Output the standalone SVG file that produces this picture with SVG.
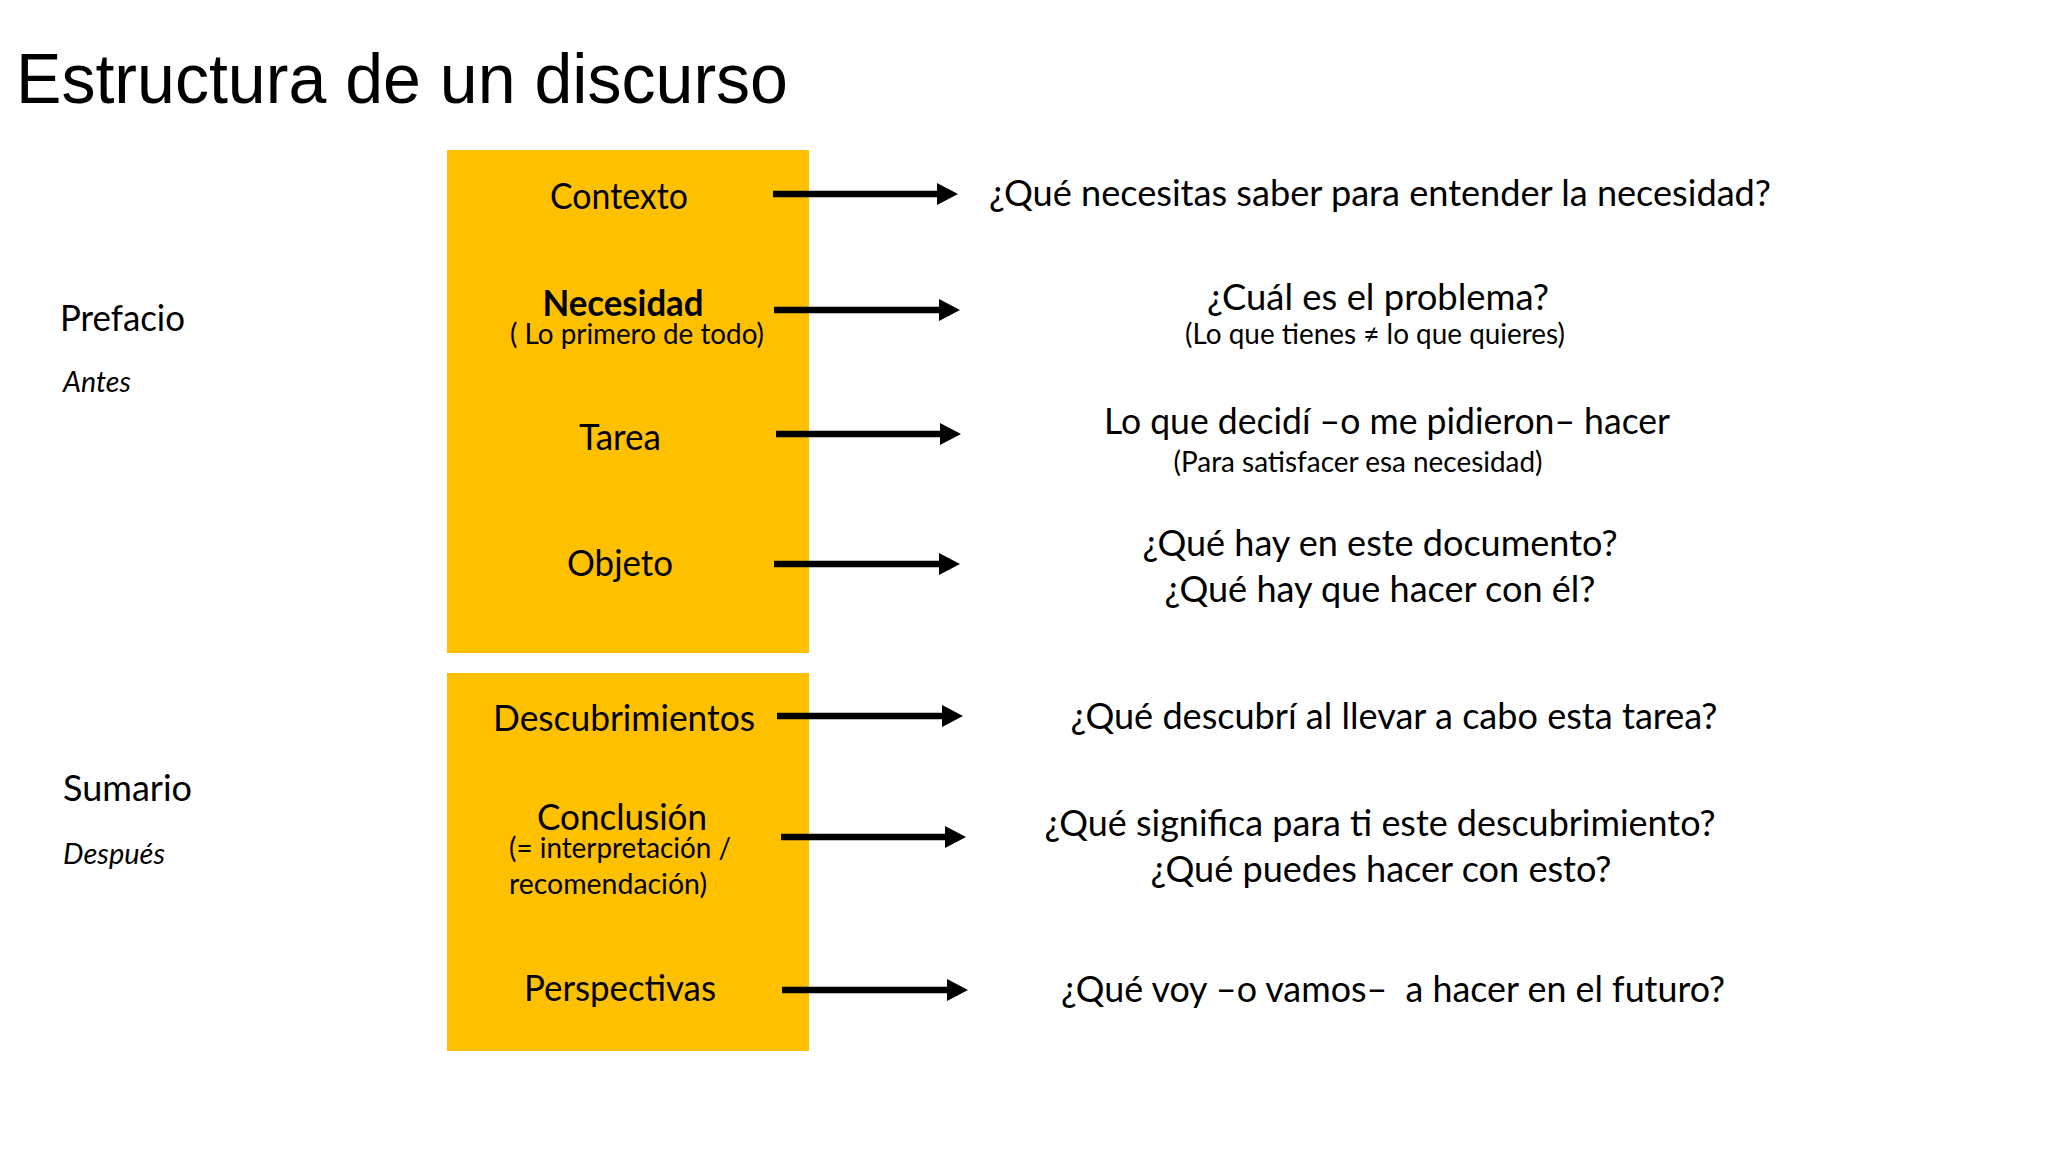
<svg xmlns="http://www.w3.org/2000/svg" width="2048" height="1152" viewBox="0 0 2048 1152">
<style>
.t{font-family:Lato,"Open Sans","Liberation Sans",sans-serif;fill:#000}
.m{font-size:36px;text-anchor:middle}
.s{font-size:28px;text-anchor:middle}
.l{font-size:36px}
.i{font-size:28px;font-style:italic}
.box{fill:#FFC000}
.arr{stroke:#000;stroke-width:6.5;fill:none;marker-end:url(#ah)}
</style>
<defs>
<marker id="ah" markerUnits="userSpaceOnUse" markerWidth="22" markerHeight="22" refX="1" refY="11" orient="auto" viewBox="0 0 22 22">
<path d="M0,0 L21,11 L0,22 z" fill="#000"/>
</marker>
</defs>
<rect width="2048" height="1152" fill="#fff"/>
<text id="title" x="16" y="103" font-family="'Liberation Sans',Arial,sans-serif" font-size="70" textLength="772" lengthAdjust="spacingAndGlyphs">Estructura de un discurso</text>

<g id="prefacio">
<text class="t l" x="60" y="331" textLength="125" lengthAdjust="spacingAndGlyphs">Prefacio</text>
<text class="t i" x="63" y="392" textLength="68" lengthAdjust="spacingAndGlyphs">Antes</text>
</g>
<g id="sumario">
<text class="t l" x="63" y="801" textLength="129" lengthAdjust="spacingAndGlyphs">Sumario</text>
<text class="t i" x="63" y="864" textLength="102" lengthAdjust="spacingAndGlyphs">Después</text>
</g>

<g id="box-antes"><rect class="box" x="447" y="150" width="362" height="503"/></g>
<g id="box-despues"><rect class="box" x="447" y="673" width="362" height="378"/></g>

<g id="contexto"><text class="t m" x="619" y="209" textLength="138" lengthAdjust="spacingAndGlyphs">Contexto</text></g>
<g id="necesidad">
<text class="t m" x="623" y="316" font-weight="bold" textLength="161" lengthAdjust="spacingAndGlyphs">Necesidad</text>
<text class="t s" x="637" y="344" textLength="254" lengthAdjust="spacingAndGlyphs">( Lo primero de todo)</text>
</g>
<g id="tarea"><text class="t m" x="620" y="450" textLength="82" lengthAdjust="spacingAndGlyphs">Tarea</text></g>
<g id="objeto"><text class="t m" x="620" y="576" textLength="106" lengthAdjust="spacingAndGlyphs">Objeto</text></g>
<g id="descubrimientos"><text class="t m" x="624" y="731" textLength="262" lengthAdjust="spacingAndGlyphs">Descubrimientos</text></g>
<g id="conclusion">
<text class="t m" x="622" y="830" textLength="170" lengthAdjust="spacingAndGlyphs">Conclusión</text>
<text class="t" x="509" y="858" font-size="28" textLength="222" lengthAdjust="spacingAndGlyphs">(= interpretación /</text>
<text class="t" x="509" y="894" font-size="28" textLength="198" lengthAdjust="spacingAndGlyphs">recomendación)</text>
</g>
<g id="perspectivas"><text class="t m" x="620" y="1001" textLength="192" lengthAdjust="spacingAndGlyphs">Perspectivas</text></g>

<g id="connectors">
<line class="arr" x1="773" y1="194" x2="938" y2="194"/>
<line class="arr" x1="774" y1="310" x2="940" y2="310"/>
<line class="arr" x1="776" y1="434" x2="941" y2="434"/>
<line class="arr" x1="774" y1="564" x2="940" y2="564"/>
<line class="arr" x1="777" y1="716" x2="943" y2="716"/>
<line class="arr" x1="781" y1="837" x2="946" y2="837"/>
<line class="arr" x1="782" y1="990" x2="948" y2="990"/>
</g>

<g id="q-contexto"><text class="t m" x="1380" y="206" textLength="782" lengthAdjust="spacingAndGlyphs">¿Qué necesitas saber para entender la necesidad?</text></g>
<g id="q-necesidad">
<text class="t m" x="1378" y="310" textLength="342" lengthAdjust="spacingAndGlyphs">¿Cuál es el problema?</text>
<text class="t s" x="1375" y="344" textLength="380" lengthAdjust="spacingAndGlyphs">(Lo que tienes ≠ lo que quieres)</text>
</g>
<g id="q-tarea">
<text class="t m" x="1387" y="434" textLength="566" lengthAdjust="spacingAndGlyphs">Lo que decidí –o me pidieron– hacer</text>
<text class="t s" x="1358" y="472" textLength="369" lengthAdjust="spacingAndGlyphs">(Para satisfacer esa necesidad)</text>
</g>
<g id="q-objeto">
<text class="t m" x="1380" y="556" textLength="475" lengthAdjust="spacingAndGlyphs">¿Qué hay en este documento?</text>
<text class="t m" x="1380" y="602" textLength="431" lengthAdjust="spacingAndGlyphs">¿Qué hay que hacer con él?</text>
</g>
<g id="q-descubrimientos"><text class="t m" x="1394" y="729" textLength="647" lengthAdjust="spacingAndGlyphs">¿Qué descubrí al llevar a cabo esta tarea?</text></g>
<g id="q-conclusion">
<text class="t m" x="1380" y="836" textLength="671" lengthAdjust="spacingAndGlyphs">¿Qué significa para ti este descubrimiento?</text>
<text class="t m" x="1381" y="882" textLength="461" lengthAdjust="spacingAndGlyphs">¿Qué puedes hacer con esto?</text>
</g>
<g id="q-perspectivas"><text class="t m" x="1393" y="1002" textLength="664" lengthAdjust="spacingAndGlyphs" style="white-space:pre">¿Qué voy –o vamos–  a hacer en el futuro?</text></g>
</svg>
